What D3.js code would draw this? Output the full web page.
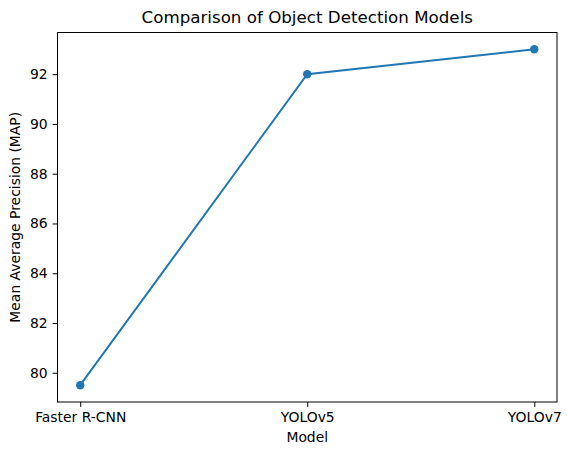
<!DOCTYPE html>
<html><head><meta charset="utf-8">
<script src="https://cdn.jsdelivr.net/npm/d3@7"></script>
<style>body{margin:0;background:#fff}svg{display:block}text{font-family:"DejaVu Sans",sans-serif;fill:#000}</style>
</head><body>
<script>
const categories = ["Faster R-CNN", "YOLOv5", "YOLOv7"];
const mapValues = [79.5, 92, 93];
const yTicks = [80, 82, 84, 86, 88, 90, 92];

const W = 567, H = 455;
const m = {left: 57.5, right: 557, top: 32.5, bottom: 402};
const svg = d3.select("body").append("svg").attr("width", W).attr("height", H);

const x = d3.scaleLinear().domain([-0.1, 2.1]).range([m.left, m.right]);
const yMin = d3.min(mapValues), yMax = d3.max(mapValues), pad = (yMax - yMin) * 0.05;
const y = d3.scaleLinear().domain([yMin - pad, yMax + pad]).range([m.bottom, m.top]);

const xAxis = d3.axisBottom(x).tickValues(d3.range(categories.length)).tickFormat(i => categories[i]).tickSize(4.9).tickPadding(4.9);
const yAxis = d3.axisLeft(y).tickValues(yTicks).tickSize(4.9).tickPadding(4.9);

const gx = svg.append("g").attr("transform", `translate(0,${m.bottom})`).call(xAxis);
const gy = svg.append("g").attr("transform", `translate(${m.left},0)`).call(yAxis);
[gx, gy].forEach(g => {
  g.select(".domain").remove();
  g.selectAll(".tick line").attr("stroke", "#000").attr("stroke-width", 1);
  g.selectAll(".tick text").style("font-size", "13.9px").style("font-family", "DejaVu Sans");
});

svg.append("rect").attr("x", m.left).attr("y", m.top).attr("width", m.right - m.left).attr("height", m.bottom - m.top)
  .attr("fill", "none").attr("stroke", "#000").attr("stroke-width", 1);

const line = d3.line().x((d, i) => x(i)).y(d => y(d));
svg.append("path").datum(mapValues).attr("d", line).attr("fill", "none").attr("stroke", "#1f77b4").attr("stroke-width", 2);
svg.selectAll("circle.pt").data(mapValues).enter().append("circle")
  .attr("cx", (d, i) => x(i)).attr("cy", d => y(d)).attr("r", 4.2).attr("fill", "#1f77b4");

svg.append("text").attr("x", (m.left + m.right) / 2).attr("y", 23).attr("text-anchor", "middle")
  .style("font-size", "16.7px").text("Comparison of Object Detection Models");
svg.append("text").attr("x", (m.left + m.right) / 2).attr("y", 442).attr("text-anchor", "middle")
  .style("font-size", "13.9px").text("Model");
svg.append("text").attr("transform", `translate(20,${(m.top + m.bottom) / 2}) rotate(-90)`).attr("text-anchor", "middle")
  .style("font-size", "13.9px").text("Mean Average Precision (MAP)");
</script>
</body></html>
